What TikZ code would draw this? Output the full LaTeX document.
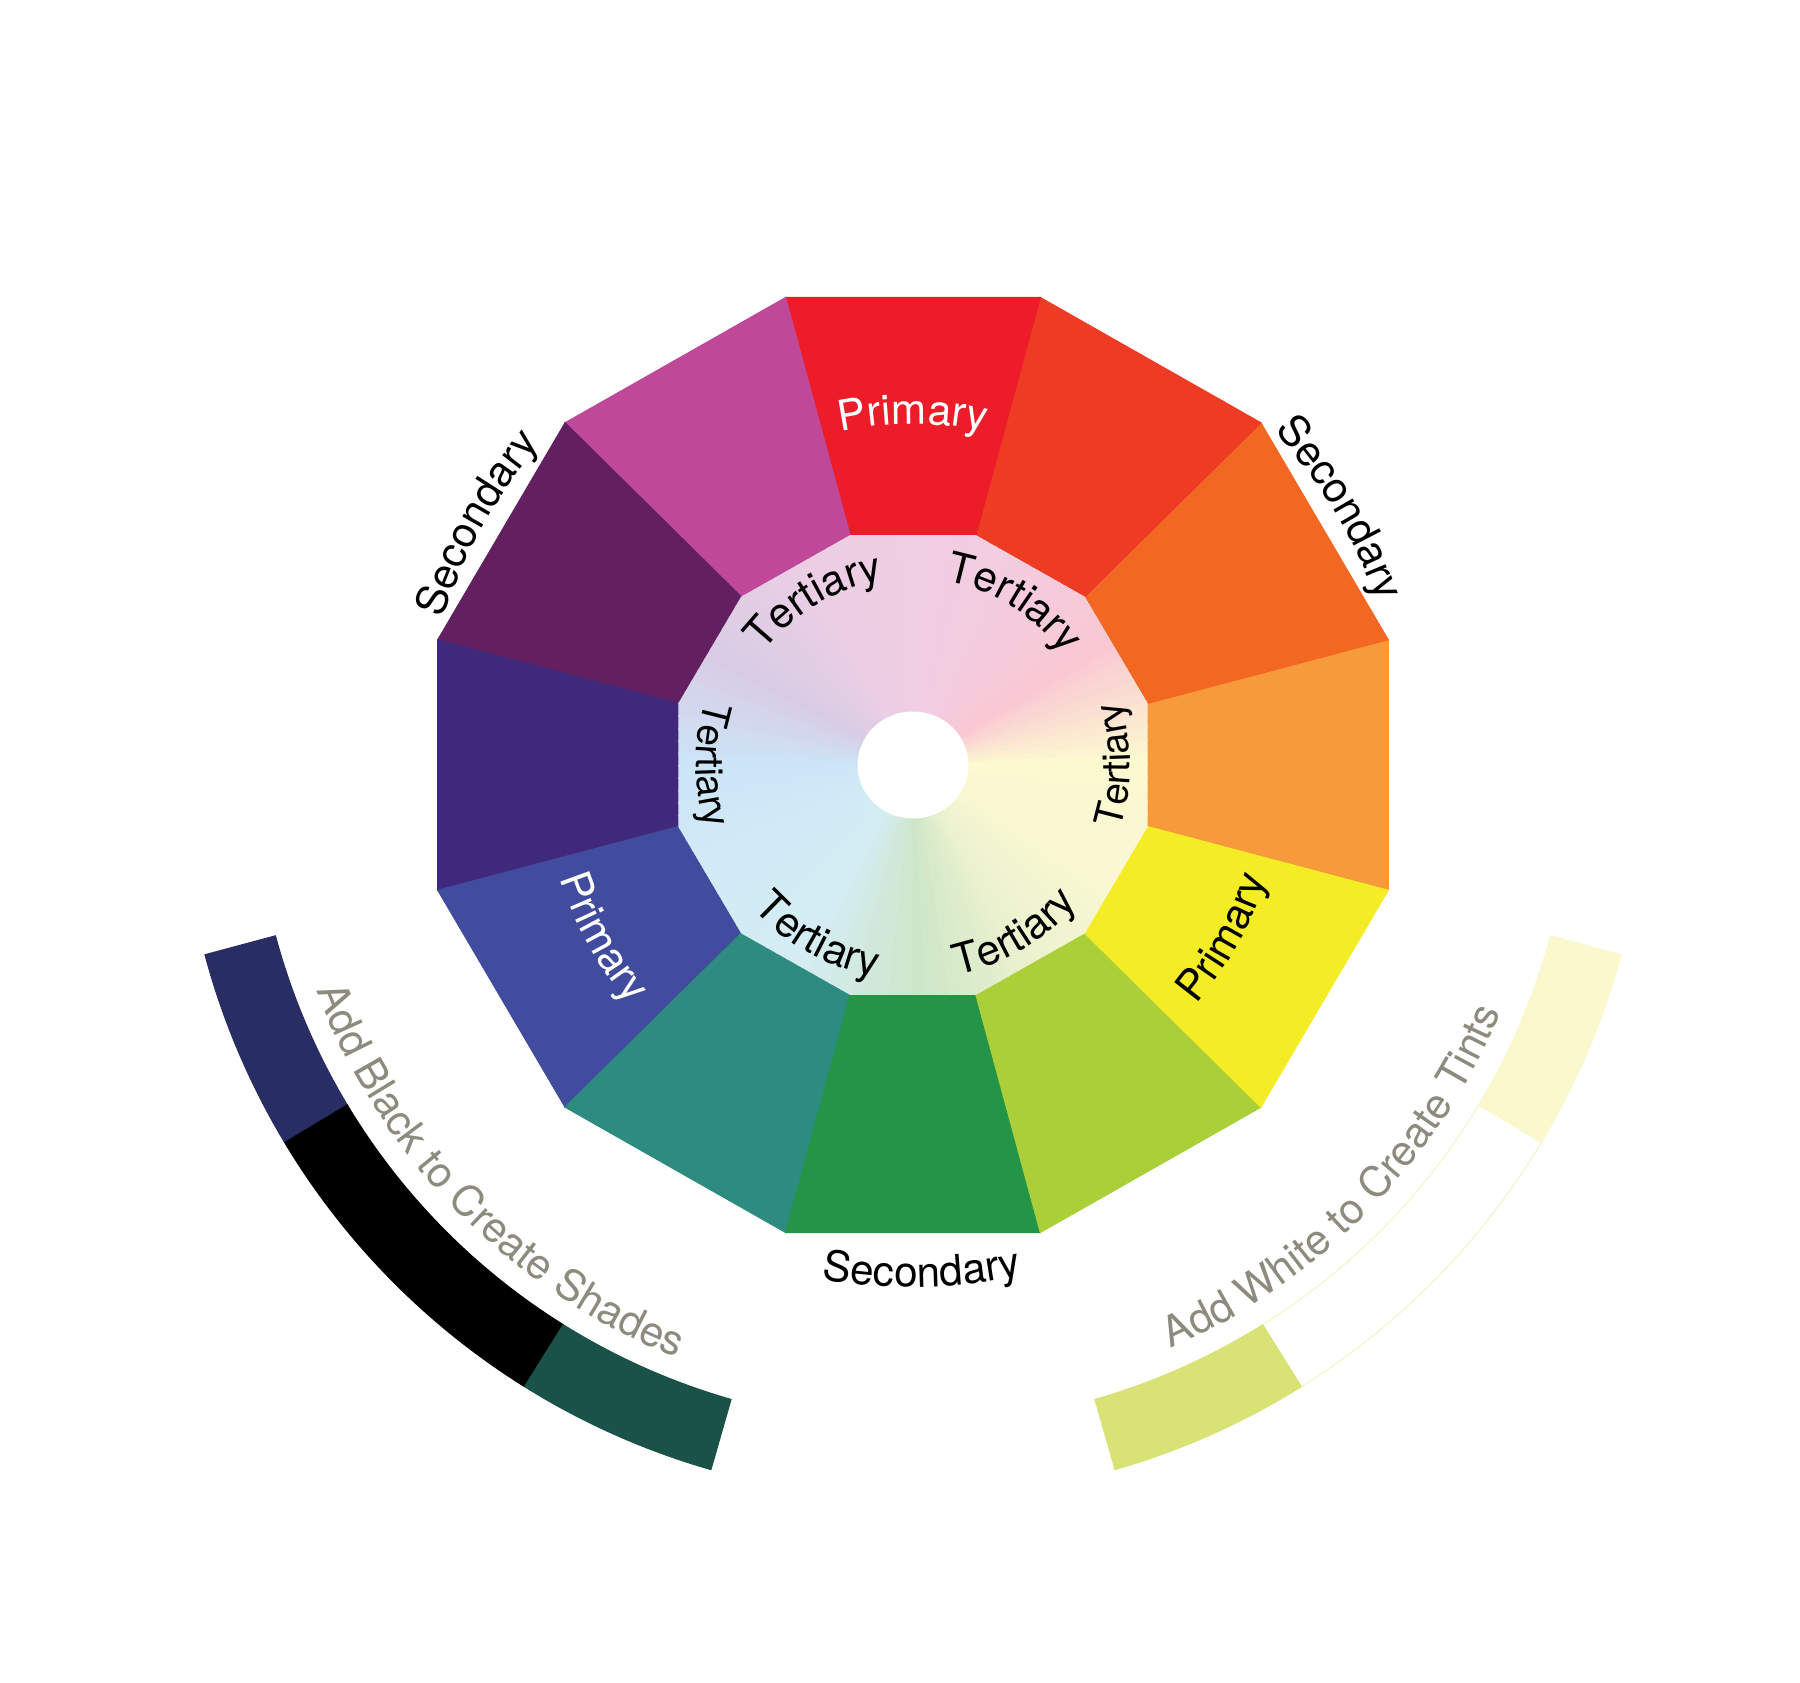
\documentclass[tikz,border=0pt]{standalone}
\usepackage{fontspec}
\setmainfont{TeX Gyre Heros}
\usetikzlibrary{decorations.text}

% outer ring
\definecolor{hue0}{HTML}{F69A3B}
\definecolor{hue30}{HTML}{F26822}
\definecolor{hue60}{HTML}{EE3B24}
\definecolor{hue90}{HTML}{ED1C29}
\definecolor{hue120}{HTML}{BF4899}
\definecolor{hue150}{HTML}{632060}
\definecolor{hue180}{HTML}{40297A}
\definecolor{hue210}{HTML}{424C9E}
\definecolor{hue240}{HTML}{2E8B80}
\definecolor{hue270}{HTML}{249446}
\definecolor{hue300}{HTML}{ABCF39}
\definecolor{hue330}{HTML}{F4EC25}
% inner pastel ring
\definecolor{pal0}{HTML}{FCF8D0}
\definecolor{pal30}{HTML}{F9C8D3}
\definecolor{pal60}{HTML}{F4CCDF}
\definecolor{pal90}{HTML}{F0CEE3}
\definecolor{pal120}{HTML}{EACEE4}
\definecolor{pal150}{HTML}{D8CCE5}
\definecolor{pal180}{HTML}{CCE6F8}
\definecolor{pal210}{HTML}{D3EBF6}
\definecolor{pal240}{HTML}{D4ECF2}
\definecolor{pal270}{HTML}{CEE6C8}
\definecolor{pal300}{HTML}{ECF2CF}
\definecolor{pal330}{HTML}{FAF8D2}
% shades and tints
\definecolor{shadeA}{HTML}{282E63}
\definecolor{shadeC}{HTML}{1A5149}
\definecolor{tintA}{HTML}{D9E274}
\definecolor{tintC}{HTML}{FAF8CC}
\definecolor{tintline}{HTML}{F2F5C8}
\definecolor{bandtext}{HTML}{8C8B7E}

\tikzset{
  wedge/.style={fill=#1, draw=#1, line width=0.3pt},
}

\newcommand\lblfont{\fontsize{12}{14}\selectfont}
\newcommand\smallfont{\fontsize{11}{13}\selectfont}

% radius, start angle, end angle, format, text
\newcommand\arclabel[5]{%
  \path[decorate, decoration={text along path, text align=center,
    text={|#4|#5}}] (#2:#1) arc[start angle=#2, end angle=#3, radius=#1];}

\begin{document}
\begin{tikzpicture}
  \useasboundingbox (-9.13,-9.18) rectangle (8.87,7.65);
  \coordinate (c) at (0,0);

  % twelve hues
  \foreach \a in {0,30,...,330}{
    \fill[wedge=hue\a] (\a-15:2.43 and 2.38) -- (\a-15:4.92 and 4.84)
      -- (\a+15:4.92 and 4.84) -- (\a+15:2.43 and 2.38) -- cycle;
  }

  % pastel centre
  \begin{scope}
    \clip (15:2.43 and 2.38) \foreach \k in {1,...,11}{ -- (15+30*\k:2.43 and 2.38)} -- cycle;
    \foreach \a/\ca/\cb in {0/pal0/pal30, 30/pal30/pal60, 60/pal60/pal90,
        90/pal90/pal120, 120/pal120/pal150, 150/pal150/pal180, 180/pal180/pal210,
        210/pal210/pal240, 240/pal240/pal270, 270/pal270/pal300,
        300/pal300/pal330, 330/pal330/pal0}{
      \foreach \j in {0,...,9}{
        \pgfmathtruncatemacro\p{100-10*\j}
        \fill[\ca!\p!\cb] (c) -- (\a+3*\j:2.7) -- (\a+3*\j+3.4:2.7) -- cycle;
      }
    }
  \end{scope}
  \fill[white] (c) ellipse[x radius=0.555, y radius=0.535];

  % shades band
  \foreach \s/\e/\col in {195/211/shadeA, 211/238/black, 238/254/shadeC}{
    \fill[wedge=\col] (\s:6.6) arc[start angle=\s, end angle=\e, radius=6.6]
      -- (\e:7.33) arc[start angle=\e, end angle=\s, radius=7.33] -- cycle;
  }
  % tints band
  \foreach \s/\e/\col in {286/302/tintA, 329/345/tintC}{
    \fill[wedge=\col] (\s:6.6) arc[start angle=\s, end angle=\e, radius=6.6]
      -- (\e:7.33) arc[start angle=\e, end angle=\s, radius=7.33] -- cycle;
  }
  \draw[tintline, line width=0.3pt] (302:6.6) arc[start angle=302, end angle=329, radius=6.6];
  \draw[tintline, line width=0.3pt] (302:7.33) arc[start angle=302, end angle=329, radius=7.33];

  % labels
  \arclabel{3.41}{135}{45}{\color{white}\lblfont}{Primary}
  \arclabel{3.71}{164}{254}{\color{white}\lblfont}{Primary}
  \arclabel{3.71}{286}{376}{\color{black}\lblfont}{Primary}

  \arclabel{4.92}{196}{106}{\lblfont}{Secondary}
  \arclabel{4.92}{76}{-14}{\lblfont}{Secondary}
  \arclabel{5.22}{226}{316}{\lblfont}{Secondary}

  \arclabel{1.87}{171}{71}{\lblfont}{Tertiary}
  \arclabel{1.87}{108}{8}{\lblfont}{Tertiary}
  \arclabel{2.17}{-50}{50}{\smallfont}{Tertiary}
  \arclabel{2.17}{130}{230}{\smallfont}{Tertiary}
  \arclabel{2.15}{191}{291}{\lblfont}{Tertiary}
  \arclabel{2.15}{251}{351}{\lblfont}{Tertiary}

  \arclabel{6.38}{184}{265}{\color{bandtext}\lblfont}{Add Black to Create Shades}
  \arclabel{6.38}{275}{356}{\color{bandtext}\lblfont}{Add White to Create Tints}
\end{tikzpicture}
\end{document}
